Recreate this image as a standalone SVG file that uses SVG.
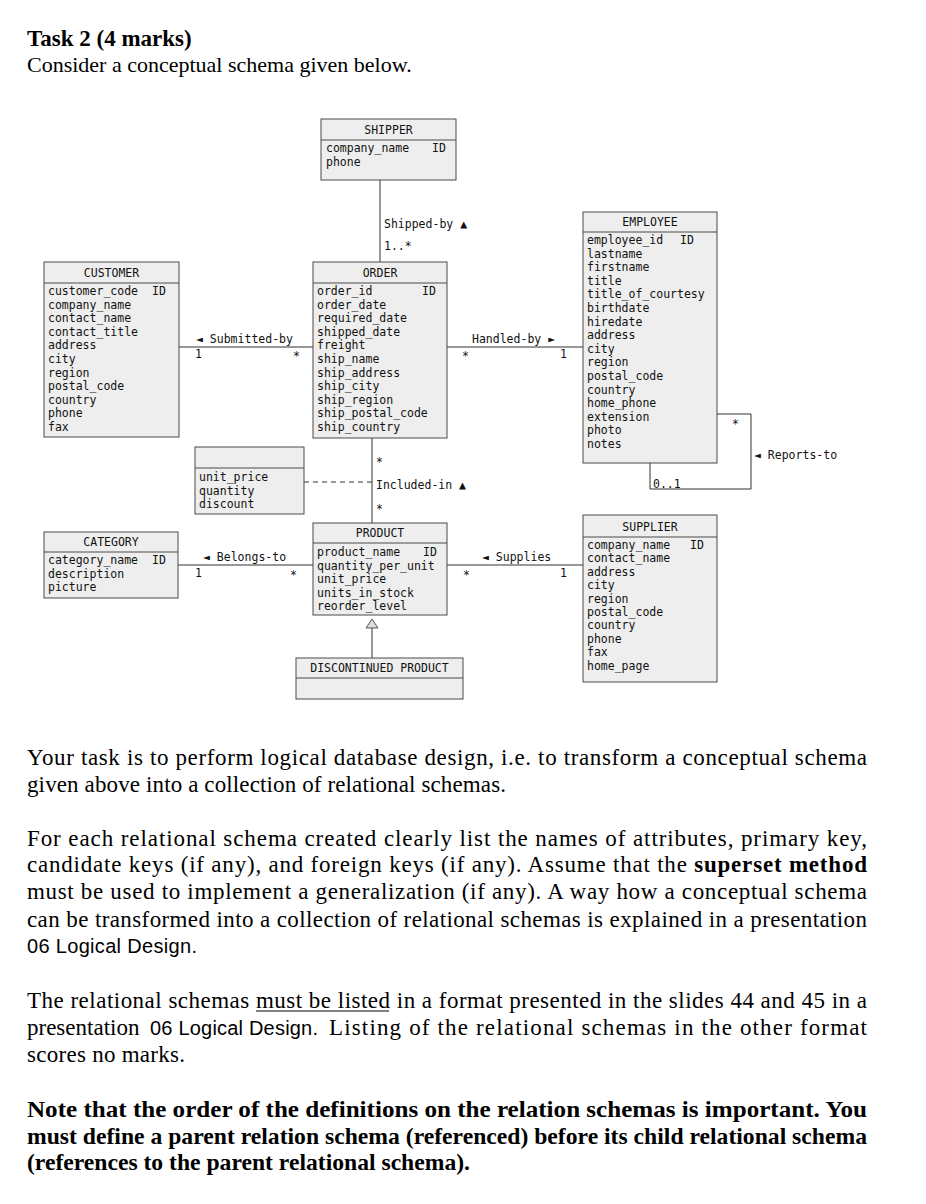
<svg xmlns="http://www.w3.org/2000/svg" width="926" height="1204" viewBox="0 0 926 1204">
<style>
.bg{fill:#ffffff}
.box{fill:#eeeeee;stroke:#4a4a4a;stroke-width:1}
.dv{stroke:#4a4a4a;stroke-width:1}
.m{font-family:"DejaVu Sans Mono",monospace;font-size:11.5px;fill:#111}
.c{text-anchor:middle}
.ln{stroke:#333;stroke-width:1;fill:none}
.dash{stroke:#333;stroke-width:1;fill:none;stroke-dasharray:5,4}
.gen{fill:#dddddd;stroke:#555;stroke-width:1}
.s{font-family:"Liberation Serif",serif;font-size:23px;fill:#000}
.hb{font-family:"Liberation Serif",serif;font-size:23px;font-weight:bold;fill:#000}
.h{font-family:"Liberation Serif",serif;font-size:22px;fill:#000}
.bold{font-weight:bold}
.sans{font-family:"Liberation Sans",sans-serif;font-size:20px;fill:#000}
</style>
<rect class="bg" x="0" y="0" width="926" height="1204"/>

<g id="connectors">
  <line class="ln" x1="380" y1="180" x2="380" y2="262"/>
  <text class="m" x="384" y="228">Shipped-by ▲</text>
  <text class="m" x="384" y="250">1..*</text>

  <line class="ln" x1="179" y1="347" x2="313" y2="347"/>
  <text class="m" x="196" y="343">◄ Submitted-by</text>
  <text class="m" x="195" y="358">1</text>
  <text class="m" x="293" y="360">*</text>

  <line class="ln" x1="447" y1="347" x2="583" y2="347"/>
  <text class="m" x="472" y="343">Handled-by ►</text>
  <text class="m" x="462" y="360">*</text>
  <text class="m" x="560" y="358">1</text>

  <line class="ln" x1="372" y1="438" x2="372" y2="523"/>
  <text class="m" x="376" y="466">*</text>
  <text class="m" x="376" y="489">Included-in ▲</text>
  <text class="m" x="376" y="513">*</text>
  <line class="dash" x1="304" y1="482" x2="372" y2="482"/>

  <line class="ln" x1="178" y1="565" x2="313" y2="565"/>
  <text class="m" x="203" y="561">◄ Belongs-to</text>
  <text class="m" x="195" y="577">1</text>
  <text class="m" x="290" y="579">*</text>

  <line class="ln" x1="447" y1="565" x2="583" y2="565"/>
  <text class="m" x="482" y="561">◄ Supplies</text>
  <text class="m" x="463" y="579">*</text>
  <text class="m" x="560" y="577">1</text>

  <line class="ln" x1="372" y1="628" x2="372" y2="658"/>
  <polygon class="gen" points="372,619 366,628 378,628"/>

  <polyline class="ln" points="717,414 751,414 751,489 650,489 650,463"/>
  <text class="m" x="732" y="428">*</text>
  <text class="m" x="754" y="459">◄ Reports-to</text>
  <text class="m" x="653" y="488">0..1</text>
</g>

<g id="shipper">
  <rect class="box" x="321" y="119" width="135" height="61"/>
  <line class="dv" x1="321" y1="140" x2="456" y2="140"/>
  <text class="m c" x="388.5" y="134">SHIPPER</text>
  <text class="m" x="326" y="152">company_name</text>
  <text class="m" x="432" y="152">ID</text>
  <text class="m" x="326" y="165.5">phone</text>
</g>

<g id="customer">
  <rect class="box" x="44" y="262" width="135" height="175"/>
  <line class="dv" x1="44" y1="283" x2="179" y2="283"/>
  <text class="m c" x="111.5" y="277">CUSTOMER</text>
  <text class="m" x="48" y="295">customer_code</text>
  <text class="m" x="152" y="295">ID</text>
  <text class="m" x="48" y="308.6">company_name</text>
  <text class="m" x="48" y="322.2">contact_name</text>
  <text class="m" x="48" y="335.8">contact_title</text>
  <text class="m" x="48" y="349.4">address</text>
  <text class="m" x="48" y="363">city</text>
  <text class="m" x="48" y="376.6">region</text>
  <text class="m" x="48" y="390.2">postal_code</text>
  <text class="m" x="48" y="403.8">country</text>
  <text class="m" x="48" y="417.4">phone</text>
  <text class="m" x="48" y="431">fax</text>
</g>

<g id="order">
  <rect class="box" x="313" y="262" width="134" height="176"/>
  <line class="dv" x1="313" y1="283" x2="447" y2="283"/>
  <text class="m c" x="380" y="277">ORDER</text>
  <text class="m" x="317" y="295">order_id</text>
  <text class="m" x="422" y="295">ID</text>
  <text class="m" x="317" y="308.6">order_date</text>
  <text class="m" x="317" y="322.2">required_date</text>
  <text class="m" x="317" y="335.8">shipped_date</text>
  <text class="m" x="317" y="349.4">freight</text>
  <text class="m" x="317" y="363">ship_name</text>
  <text class="m" x="317" y="376.6">ship_address</text>
  <text class="m" x="317" y="390.2">ship_city</text>
  <text class="m" x="317" y="403.8">ship_region</text>
  <text class="m" x="317" y="417.4">ship_postal_code</text>
  <text class="m" x="317" y="431">ship_country</text>
</g>

<g id="employee">
  <rect class="box" x="583" y="212" width="134" height="251"/>
  <line class="dv" x1="583" y1="232" x2="717" y2="232"/>
  <text class="m c" x="650" y="226">EMPLOYEE</text>
  <text class="m" x="587" y="244">employee_id</text>
  <text class="m" x="680" y="244">ID</text>
  <text class="m" x="587" y="257.6">lastname</text>
  <text class="m" x="587" y="271.2">firstname</text>
  <text class="m" x="587" y="284.8">title</text>
  <text class="m" x="587" y="298.4">title_of_courtesy</text>
  <text class="m" x="587" y="312">birthdate</text>
  <text class="m" x="587" y="325.6">hiredate</text>
  <text class="m" x="587" y="339.2">address</text>
  <text class="m" x="587" y="352.8">city</text>
  <text class="m" x="587" y="366.4">region</text>
  <text class="m" x="587" y="380">postal_code</text>
  <text class="m" x="587" y="393.6">country</text>
  <text class="m" x="587" y="407.2">home_phone</text>
  <text class="m" x="587" y="420.8">extension</text>
  <text class="m" x="587" y="434.4">photo</text>
  <text class="m" x="587" y="448">notes</text>
</g>

<g id="order_details">
  <rect class="box" x="195" y="447" width="109" height="67"/>
  <line class="dv" x1="195" y1="468" x2="304" y2="468"/>
  <text class="m" x="199" y="481">unit_price</text>
  <text class="m" x="199" y="494.5">quantity</text>
  <text class="m" x="199" y="508">discount</text>
</g>

<g id="category">
  <rect class="box" x="44" y="532" width="134" height="66"/>
  <line class="dv" x1="44" y1="552" x2="178" y2="552"/>
  <text class="m c" x="111" y="546">CATEGORY</text>
  <text class="m" x="48" y="564">category_name</text>
  <text class="m" x="152" y="564">ID</text>
  <text class="m" x="48" y="577.5">description</text>
  <text class="m" x="48" y="591">picture</text>
</g>

<g id="product">
  <rect class="box" x="313" y="523" width="134" height="92"/>
  <line class="dv" x1="313" y1="543" x2="447" y2="543"/>
  <text class="m c" x="380" y="537">PRODUCT</text>
  <text class="m" x="317" y="556">product_name</text>
  <text class="m" x="423" y="556">ID</text>
  <text class="m" x="317" y="569.6">quantity_per_unit</text>
  <text class="m" x="317" y="583.2">unit_price</text>
  <text class="m" x="317" y="596.8">units_in_stock</text>
  <text class="m" x="317" y="610.4">reorder_level</text>
</g>

<g id="discontinued_product">
  <rect class="box" x="296" y="658" width="167" height="41"/>
  <line class="dv" x1="296" y1="678" x2="463" y2="678"/>
  <text class="m c" x="379.5" y="672">DISCONTINUED PRODUCT</text>
</g>

<g id="supplier">
  <rect class="box" x="583" y="515" width="134" height="167"/>
  <line class="dv" x1="583" y1="537" x2="717" y2="537"/>
  <text class="m c" x="650" y="531">SUPPLIER</text>
  <text class="m" x="587" y="549">company_name</text>
  <text class="m" x="690" y="549">ID</text>
  <text class="m" x="587" y="562.4">contact_name</text>
  <text class="m" x="587" y="575.8">address</text>
  <text class="m" x="587" y="589.2">city</text>
  <text class="m" x="587" y="602.6">region</text>
  <text class="m" x="587" y="616">postal_code</text>
  <text class="m" x="587" y="629.4">country</text>
  <text class="m" x="587" y="642.8">phone</text>
  <text class="m" x="587" y="656.2">fax</text>
  <text class="m" x="587" y="669.6">home_page</text>
</g>

<g id="text">
  <text class="hb" x="27" y="46">Task 2 (4 marks)</text>
  <text class="h" x="27" y="72">Consider a conceptual schema given below.</text>

  <text class="s" x="27" y="765" textLength="840" lengthAdjust="spacing">Your task is to perform logical database design, i.e. to transform a conceptual schema</text>
  <text class="s" x="27" y="792" textLength="479" lengthAdjust="spacing">given above into a collection of relational schemas.</text>

  <text class="s" x="27" y="846" textLength="840" lengthAdjust="spacing">For each relational schema created clearly list the names of attributes, primary key,</text>
  <text class="s" x="27" y="872" textLength="840" lengthAdjust="spacing">candidate keys (if any), and foreign keys (if any). Assume that the <tspan class="bold">superset method</tspan></text>
  <text class="s" x="27" y="899" textLength="840" lengthAdjust="spacing">must be used to implement a generalization (if any). A way how a conceptual schema</text>
  <text class="s" x="27" y="927" textLength="840" lengthAdjust="spacing">can be transformed into a collection of relational schemas is explained in a presentation</text>
  <text class="sans" x="27" y="953" textLength="170" lengthAdjust="spacing">06 Logical Design.</text>

  <text class="s" x="27" y="1008" textLength="840" lengthAdjust="spacing">The relational schemas must be listed in a format presented in the slides 44 and 45 in a</text>
  <line x1="256" y1="1011" x2="389" y2="1011" stroke="#000" stroke-width="1.2"/>
  <text class="s" x="27" y="1035">presentation</text>
  <text class="sans" x="150" y="1035" textLength="168" lengthAdjust="spacing">06 Logical Design.</text>
  <text class="s" x="329" y="1035" textLength="538" lengthAdjust="spacing">Listing of the relational schemas in the other format</text>
  <text class="s" x="27" y="1062" textLength="158" lengthAdjust="spacing">scores no marks.</text>

  <text class="s bold" x="27" y="1117" textLength="840" lengthAdjust="spacingAndGlyphs">Note that the order of the definitions on the relation schemas is important. You</text>
  <text class="s bold" x="27" y="1144" textLength="840" lengthAdjust="spacingAndGlyphs">must define a parent relation schema (referenced) before its child relational schema</text>
  <text class="s bold" x="27" y="1170" textLength="443" lengthAdjust="spacingAndGlyphs">(references to the parent relational schema).</text>
</g>
</svg>
